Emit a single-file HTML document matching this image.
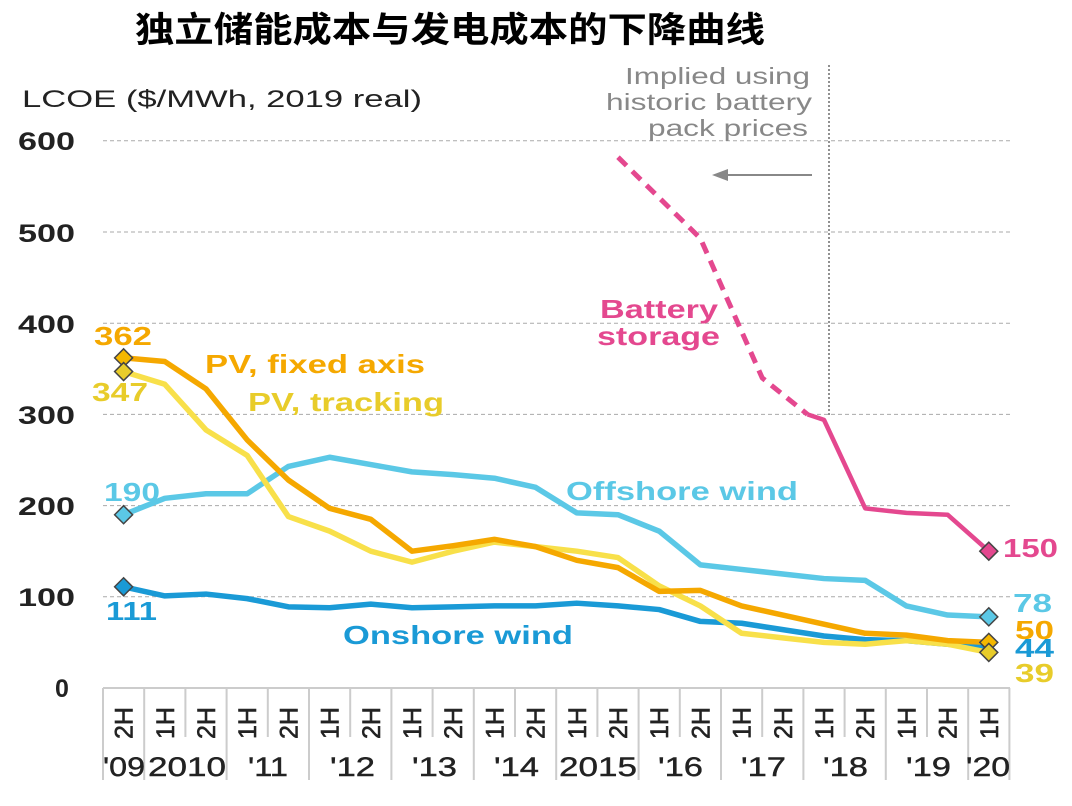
<!DOCTYPE html>
<html><head><meta charset="utf-8">
<style>
body{margin:0;background:#fff;}
svg{display:block;font-family:"Liberation Sans","Noto Sans CJK SC",sans-serif;}
</style></head>
<body>
<svg id="s" width="1072" height="806" viewBox="0 0 1072 806" xmlns="http://www.w3.org/2000/svg">
<text x="135" y="42" font-size="35" font-weight="bold" fill="#000" font-family="'Noto Sans CJK SC',sans-serif" textLength="630" lengthAdjust="spacingAndGlyphs">独立储能成本与发电成本的下降曲线</text>
<text x="22" y="107" font-size="24" fill="#222" textLength="400" lengthAdjust="spacingAndGlyphs">LCOE ($/MWh, 2019 real)</text>
<g font-size="25" fill="#222" font-weight="bold">
<text x="18" y="150" textLength="57" lengthAdjust="spacingAndGlyphs">600</text>
<text x="18" y="242" textLength="57" lengthAdjust="spacingAndGlyphs">500</text>
<text x="18" y="333" textLength="57" lengthAdjust="spacingAndGlyphs">400</text>
<text x="18" y="424" textLength="57" lengthAdjust="spacingAndGlyphs">300</text>
<text x="18" y="515" textLength="57" lengthAdjust="spacingAndGlyphs">200</text>
<text x="18" y="606" textLength="57" lengthAdjust="spacingAndGlyphs">100</text>
<text x="55" y="697">0</text>
</g>
<g id="grid" stroke="#aaa" stroke-width="1" stroke-dasharray="4,3"></g>
<line x1="103" y1="688" x2="1010" y2="688" stroke="#ccc" stroke-width="2"/>
<g id="ticks" stroke="#ccc" stroke-width="2"></g>
<g id="hl" font-size="25" fill="#222" stroke="#222" stroke-width="0.6"></g>
<g font-size="27" fill="#222" stroke="#222" stroke-width="0.4">
<text x="103" y="776" textLength="42" lengthAdjust="spacingAndGlyphs">'09</text>
<text x="148" y="776" textLength="78" lengthAdjust="spacingAndGlyphs">2010</text>
<text x="248" y="776" textLength="40" lengthAdjust="spacingAndGlyphs">'11</text>
<text x="330" y="776" textLength="45" lengthAdjust="spacingAndGlyphs">'12</text>
<text x="412" y="776" textLength="45" lengthAdjust="spacingAndGlyphs">'13</text>
<text x="494" y="776" textLength="45" lengthAdjust="spacingAndGlyphs">'14</text>
<text x="559" y="776" textLength="78" lengthAdjust="spacingAndGlyphs">2015</text>
<text x="658" y="776" textLength="45" lengthAdjust="spacingAndGlyphs">'16</text>
<text x="741" y="776" textLength="45" lengthAdjust="spacingAndGlyphs">'17</text>
<text x="823" y="776" textLength="45" lengthAdjust="spacingAndGlyphs">'18</text>
<text x="906" y="776" textLength="45" lengthAdjust="spacingAndGlyphs">'19</text>
<text x="966" y="776" textLength="44" lengthAdjust="spacingAndGlyphs">'20</text>
</g>
<line x1="829" y1="65" x2="829" y2="415" stroke="#555" stroke-width="1.3" stroke-dasharray="2,2"/>
<g font-size="23" fill="#888">
<text x="625" y="84" textLength="185" lengthAdjust="spacingAndGlyphs">Implied using</text>
<text x="606" y="110" textLength="206" lengthAdjust="spacingAndGlyphs">historic battery</text>
<text x="648" y="136" textLength="160" lengthAdjust="spacingAndGlyphs">pack prices</text>
</g>
<line x1="812" y1="175" x2="725" y2="175" stroke="#888" stroke-width="2"/>
<polygon points="712,175 728,169 728,181" fill="#888"/>
<g id="series" fill="none" stroke-linejoin="round"></g>
<g id="mk"></g>
<g font-weight="bold" font-size="26">
<text x="600" y="318" fill="#e4488f" textLength="118" lengthAdjust="spacingAndGlyphs">Battery</text>
<text x="597" y="345" fill="#e4488f" textLength="123" lengthAdjust="spacingAndGlyphs">storage</text>
<text x="205" y="373" fill="#f5a800" textLength="220" lengthAdjust="spacingAndGlyphs">PV, fixed axis</text>
<text x="248" y="411" fill="#e8cc2a" textLength="196" lengthAdjust="spacingAndGlyphs">PV, tracking</text>
<text x="566" y="500" fill="#5bc8e6" textLength="232" lengthAdjust="spacingAndGlyphs">Offshore wind</text>
<text x="343" y="644" fill="#1a9ad6" textLength="230" lengthAdjust="spacingAndGlyphs">Onshore wind</text>
<text x="94" y="345" fill="#f5a800" textLength="58" lengthAdjust="spacingAndGlyphs">362</text>
<text x="92" y="401" fill="#e8cc2a" textLength="56" lengthAdjust="spacingAndGlyphs">347</text>
<text x="104" y="501" fill="#5bc8e6" textLength="56" lengthAdjust="spacingAndGlyphs">190</text>
<text x="106" y="620" fill="#1a9ad6" textLength="51" lengthAdjust="spacingAndGlyphs">111</text>
<text x="1003" y="557" fill="#e4488f" textLength="55" lengthAdjust="spacingAndGlyphs">150</text>
<text x="1013" y="612" fill="#5bc8e6" textLength="39" lengthAdjust="spacingAndGlyphs">78</text>
<text x="1015" y="639" fill="#f5a800" textLength="39" lengthAdjust="spacingAndGlyphs">50</text>
<text x="1015" y="657" fill="#1a9ad6" textLength="39" lengthAdjust="spacingAndGlyphs">44</text>
<text x="1015" y="682" fill="#e8cc2a" textLength="39" lengthAdjust="spacingAndGlyphs">39</text>
</g>
</svg>
<script>
var NS="http://www.w3.org/2000/svg";
function X(i){return 123.6+41.2*i}
function Y(v){return 688-0.912*v}
function el(p,t,a){var e=document.createElementNS(NS,t);for(var k in a)e.setAttribute(k,a[k]);document.getElementById(p).appendChild(e);return e}
[600,500,400,300,200,100].forEach(function(v){el("grid","line",{x1:103,x2:1010,y1:Y(v),y2:Y(v)})});
for(var i=0;i<=22;i++){var x=103+41.2*i;var yr=(i%2==1)||i==0||i==22;el("ticks","line",{x1:x,x2:x,y1:688,y2:yr?780:737});}
for(var i=0;i<22;i++){var t=el("hl","text",{transform:"translate("+(X(i)+9)+",739) rotate(-90)"});t.textContent=(i%2==0)?"2H":"1H";}
function pl(d,c,w,dash){var pts=d.map(function(p){return X(p[0])+","+Y(p[1])}).join(" ");var a={points:pts,stroke:c,"stroke-width":w};if(dash)a["stroke-dasharray"]=dash;el("series","polyline",a)}
function arr(v){return v.map(function(y,i){return [i,y]})}
var off=[190,208,213,213,243,253,245,237,234,230,220,192,190,172,135,130,125,120,118,90,80,78];
var on=[111,101,103,98,89,88,92,88,89,90,90,93,90,86,73,71,64,57,53,52,48,44];
var pvf=[362,358,328,272,228,197,185,150,156,163,155,140,132,106,107,90,80,70,60,58,52,50];
var pvt=[347,333,283,255,188,172,150,138,150,160,155,150,143,112,90,60,55,50,48,52,48,39];
pl(arr(off),"#5bc8e6",5.5);
pl(arr(on),"#1a9ad6",5.5);
pl(arr(pvt),"#f8e04a",5.5);
pl(arr(pvf),"#f5a800",5.5);
pl([[12,582],[14,493],[15.5,340],[16.6,300]],"#e4488f",5,"12,8");
pl([[16.6,300],[17,294],[18,197],[19,192],[20,190],[21,150]],"#e4488f",4.5);
function dm(i,v,c){var x=X(i),y=Y(v);el("mk","polygon",{points:(x-9)+","+y+" "+x+","+(y-9)+" "+(x+9)+","+y+" "+x+","+(y+9),fill:c,stroke:"#444","stroke-width":1.5})}
dm(0,362,"#f5b800");dm(0,347,"#e8cc2a");dm(0,190,"#5bc8e6");dm(0,111,"#1a9ad6");
dm(21,150,"#e4488f");dm(21,78,"#5bc8e6");dm(21,50,"#f5b800");dm(21,39,"#e8cc2a");
</script>
</body></html>
